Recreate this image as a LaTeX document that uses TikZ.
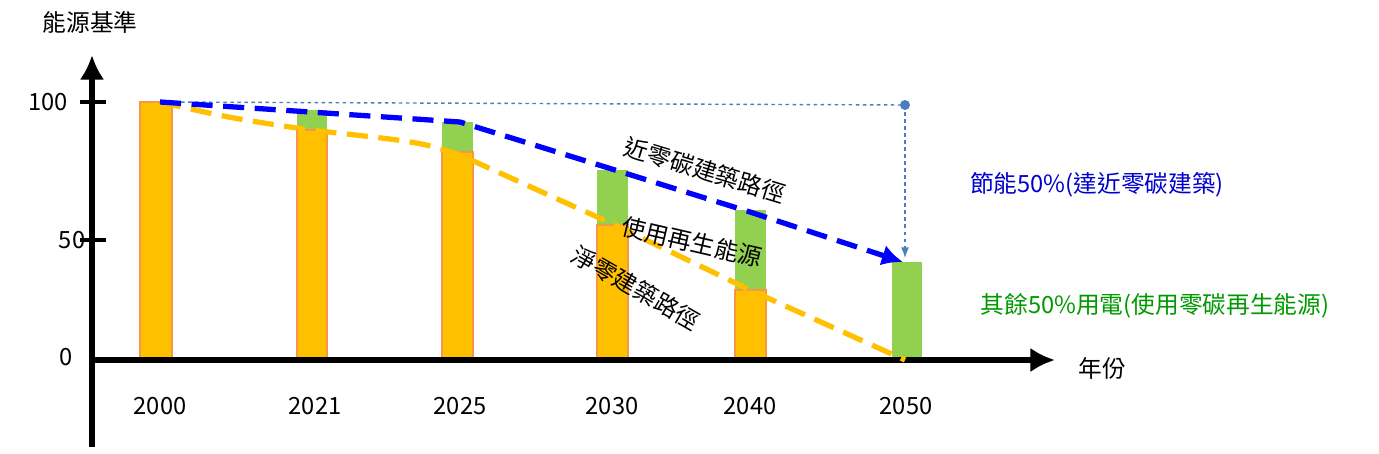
\documentclass[tikz,border=0pt]{standalone}
\usepackage{fontspec}
\setmainfont{Noto Sans CJK TC}
\usetikzlibrary{arrows.meta}
\definecolor{bar}{HTML}{FFC000}
\definecolor{barb}{HTML}{F79646}
\definecolor{grn}{HTML}{92D050}
\definecolor{lb}{HTML}{4A7EC0}
\begin{document}
\begin{tikzpicture}[x=0.02cm,y=-0.02cm,
 lab/.style={font=\fontsize{13.5pt}{15pt}\selectfont},
 ob/.style={fill=bar,draw=barb,line width=1.5pt},
 gb/.style={fill=grn,draw=none}]
\useasboundingbox (0,0) rectangle (1379,453);
% bars
\draw[ob] (140,102) rectangle (172,360);
\fill[gb] (297,110) rectangle (327,130); \draw[ob] (297,130) rectangle (327,360);
\fill[gb] (442,122) rectangle (473,152); \draw[ob] (442,152) rectangle (473,360);
\fill[gb] (597,170) rectangle (628,225); \draw[ob] (597,225) rectangle (628,360);
\fill[gb] (735,210) rectangle (766,290); \draw[ob] (735,290) rectangle (766,360);
\fill[gb] (892,262) rectangle (922,360);
% axes
\draw[line width=3pt,-{Latex[length=14pt,width=14pt]}] (92,447) -- (92,55);
\draw[line width=3pt,-{Latex[length=14pt,width=14pt]}] (92,360) -- (1055,360);
\draw[line width=2pt] (80,102) -- (106,102);
\draw[line width=2pt] (80,240) -- (106,240);
% dotted guide
\coordinate (s) at (160,102);
\coordinate (d) at (905,105);
\coordinate (e) at (905,258);
\draw[lb,dash pattern=on 2pt off 2pt,line width=0.8pt] (s) -- (d);
\fill[lb] (d) circle (5);
\draw[lb,dash pattern=on 2pt off 2pt,line width=0.8pt,-{Latex[length=6pt]}] (d) -- (e);
% paths
\draw[bar,line width=3pt,dash pattern=on 12pt off 6pt] (160,102) .. controls (230,118) .. (310,130) .. controls (420,142) .. (460,155) -- (615,225) -- (750,290) -- (905,360);
\draw[blue,line width=3pt,dash pattern=on 12pt off 6pt,-{Latex[length=12pt,width=12pt]}] (160,102) -- (310,112) -- (460,122) -- (615,170) -- (750,212) -- (903,262);
% labels
\node[lab] at (90,22) {能源基準};
\node[lab] at (48,102) {100};
\node[lab] at (72,240) {50};
\node[lab] at (66,357) {0};
\node[lab] at (1102,368) {年份};
\foreach \x/\t in {160/2000,315/2021,460/2025,612/2030,750/2040,906/2050} \node[lab] at (\x,406) {\t};
\node[lab,rotate=-17] at (705,170) {近零碳建築路徑};
\node[lab,rotate=-13] at (692,242) {使用再生能源};
\node[lab,rotate=-30] at (636,288) {淨零建築路徑};
\node[lab,blue!80!black] at (1097,185) {節能50\%(達近零碳建築)};
\node[lab,green!60!black] at (1155,306) {其餘50\%用電(使用零碳再生能源)};
\end{tikzpicture}
\end{document}
